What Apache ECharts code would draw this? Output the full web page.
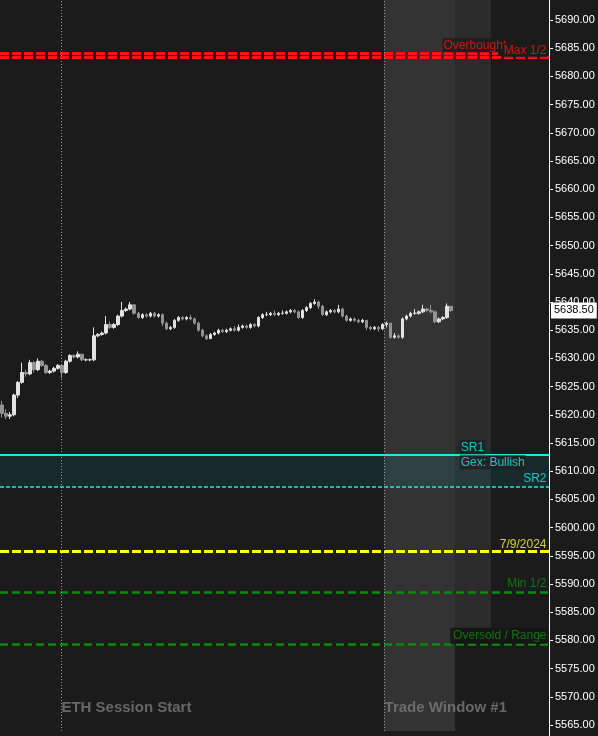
<!DOCTYPE html>
<html><head><meta charset="utf-8">
<script src="https://cdn.jsdelivr.net/npm/echarts@6/dist/echarts.min.js"></script>
<style>html,body{margin:0;padding:0;background:#1b1b1b;}#c{width:598px;height:736px;}</style>
</head><body><div id="c"></div>
<script>
// ---- data ----
const opens = [5621.75,5620.25,5619.75,5620.0,5623.5,5625.75,5627.5,5627.25,5629.25,5628.0,
5629.5,5628.75,5627.5,5627.75,5628.25,5628.75,5627.5,5629.5,5630.5,5630.25,
5630.75,5629.75,5629.75,5629.75,5634.0,5634.25,5634.5,5636.0,5635.5,5636.0,
5637.5,5638.5,5638.75,5639.5,5638.0,5637.25,5637.75,5637.5,5638.0,5637.5,
5637.75,5636.25,5635.25,5635.5,5636.75,5637.25,5637.0,5637.25,5637.0,5636.25,
5635.0,5634.0,5633.5,5634.25,5634.5,5635.0,5634.75,5635.0,5635.25,5635.0,
5635.5,5635.75,5635.5,5636.0,5635.75,5637.25,5637.75,5637.75,5638.0,5637.75,
5638.0,5638.0,5638.25,5638.5,5638.25,5637.25,5638.5,5639.0,5639.75,5640.0,
5639.25,5637.75,5638.25,5638.5,5638.25,5638.75,5637.5,5636.75,5637.0,5636.75,
5636.5,5636.75,5635.5,5635.25,5635.5,5635.25,5636.0,5636.25,5633.75,5634.0,
5633.75,5637.0,5637.5,5638.0,5638.0,5638.25,5638.75,5638.5,5638.25,5636.5,
5637.0,5637.25,5639.25];
const closes = [5620.25,5619.75,5620.0,5623.5,5625.75,5627.5,5627.25,5629.25,5628.0,5629.5,
5628.75,5627.5,5627.75,5628.25,5628.75,5627.5,5629.5,5630.5,5630.25,5630.75,
5629.75,5629.75,5629.75,5634.0,5634.25,5634.5,5636.0,5635.5,5636.0,5637.5,
5638.5,5638.75,5639.5,5638.0,5637.25,5637.75,5637.5,5638.0,5637.5,5637.75,
5636.25,5635.25,5635.5,5636.75,5637.25,5637.0,5637.25,5637.0,5636.25,5635.0,
5634.0,5633.5,5634.25,5634.5,5635.0,5634.75,5635.0,5635.25,5635.0,5635.5,
5635.75,5635.5,5636.0,5635.75,5637.25,5637.75,5637.75,5638.0,5637.75,5638.0,
5638.0,5638.25,5638.5,5638.25,5637.25,5638.5,5639.0,5639.75,5640.0,5639.25,
5637.75,5638.25,5638.5,5638.25,5638.75,5637.5,5636.75,5637.0,5636.75,5636.5,
5636.75,5635.5,5635.25,5635.5,5635.25,5636.0,5636.25,5633.75,5634.0,5633.75,
5637.0,5637.5,5638.0,5638.0,5638.25,5638.75,5638.5,5638.25,5636.5,5637.0,
5637.25,5639.25,5638.5];
const lows = [5619.5,5619.25,5619.25,5619.75,5623.0,5625.5,5626.75,5627.0,5627.5,5627.75,
5628.5,5627.25,5627.25,5627.5,5628.0,5626.5,5627.25,5629.25,5630.0,5630.0,
5629.5,5629.5,5629.5,5629.5,5633.75,5634.0,5634.25,5635.25,5635.25,5635.75,
5637.25,5638.25,5638.5,5637.75,5637.0,5637.0,5637.25,5637.25,5637.25,5637.25,
5635.75,5635.0,5635.0,5635.25,5636.5,5636.75,5636.75,5636.75,5636.0,5634.75,
5633.75,5633.25,5633.5,5634.0,5634.25,5634.5,5634.5,5634.75,5634.75,5634.75,
5635.25,5635.25,5635.25,5635.5,5635.5,5637.0,5637.5,5637.5,5637.5,5637.5,
5637.75,5637.75,5638.0,5638.0,5637.0,5637.0,5638.25,5638.75,5639.5,5638.75,
5637.5,5637.5,5638.0,5638.0,5638.0,5637.25,5636.5,5636.5,5636.5,5636.25,
5636.25,5635.0,5635.0,5635.0,5634.75,5635.0,5635.5,5633.5,5633.5,5633.5,
5633.5,5636.75,5637.25,5637.75,5637.75,5638.0,5638.25,5638.0,5636.25,5636.25,
5636.75,5637.0,5638.25];
const highs = [5622.5,5621.0,5620.5,5623.75,5626.0,5629.25,5628.0,5629.75,5629.5,5630.0,
5629.75,5629.0,5628.0,5628.5,5629.0,5629.0,5629.75,5630.75,5630.75,5631.25,
5630.75,5630.0,5630.0,5635.5,5634.5,5634.75,5637.5,5636.5,5636.25,5637.75,
5640.0,5639.0,5640.0,5639.5,5638.25,5638.0,5638.0,5638.25,5638.25,5638.0,
5638.0,5636.5,5635.75,5637.0,5637.5,5637.5,5637.5,5637.75,5637.25,5636.5,
5635.25,5634.25,5634.5,5634.75,5635.25,5635.25,5635.25,5635.5,5635.75,5636.0,
5636.0,5636.0,5636.25,5636.25,5637.5,5638.0,5638.25,5638.25,5638.5,5638.25,
5638.5,5638.5,5638.75,5638.75,5638.5,5638.75,5639.25,5640.0,5640.5,5640.25,
5639.5,5638.5,5638.75,5638.75,5639.5,5639.0,5637.75,5637.25,5637.25,5637.0,
5637.0,5636.75,5635.75,5635.75,5635.75,5636.25,5636.5,5636.25,5634.5,5634.25,
5637.25,5637.75,5638.25,5638.75,5638.5,5639.5,5639.0,5639.5,5638.5,5637.25,
5637.5,5639.75,5639.25];

const slotCount = 137;               // bar slots across the plot (incl. empty future slots)
const levelNames  = ['Overbought', 'Max 1/2', 'SR1', 'SR2', '7/9/2024', 'Min 1/2', 'Oversold / Range'];
const levelPrices = [5684.1, 5683.4, 5613.0, 5607.2, 5595.75, 5588.6, 5579.3];
const zoneNote = 'Gex: Bullish';
const eventNames = ['ETH Session Start', 'Trade Window #1'];
const eventSlots = [15.2, 95.85];    // in bar-slot units
const tradeWindowEnd = 113.55;
const tradeWindowTail = 122.5;
const yMin = 5560, yMax = 5695, yInterval = 5;
const plotTop = 5693.55, plotBottom = 5563.94;

// ---- build ----
const categories = [];
for (let i = 0; i < slotCount; i++) categories.push(String(i));
const candles = opens.map((o, i) => [o, closes[i], lows[i], highs[i]]);
const lvl = Object.fromEntries(levelNames.map((n, i) => [n, levelPrices[i]]));

const RED = '#ff1414', CYAN = '#1ee8e8', YEL = '#ffff1a', GRN = '#0c8c0c';
const FONT = 'Liberation Sans';
const rightEdge = slotCount - 0.25;

function hLine(p, color, width, type, x0, x1) {
  return [{coord: [x0 == null ? 0 : x0, p], lineStyle: {color, width, type}},
          {coord: [x1 == null ? slotCount : x1, p]}];
}

const levelLines = [
  hLine(lvl['Overbought'], RED, 3, [9, 3], 0, 124.3),
  hLine(lvl['Max 1/2'], RED, 3, [9, 3]),
  hLine(lvl['SR1'], CYAN, 2, 'solid'),
  hLine(lvl['SR2'], CYAN, 1.5, [4, 2]),
  hLine(lvl['7/9/2024'], YEL, 3, [9, 3]),
  hLine(lvl['Min 1/2'], GRN, 2.5, [8, 4]),
  hLine(lvl['Oversold / Range'], GRN, 2.5, [8, 4])
];
eventSlots.forEach(x => levelLines.push([
  {coord: [x, plotBottom], lineStyle: {color: '#9c9c9c', width: 1, type: [1, 2]}},
  {coord: [x, plotTop]}
]));

function lab(text, x, y, pos, dy, color, bg, extra) {
  return {
    value: [x, y],
    label: Object.assign({
      show: true, formatter: text, position: pos, distance: 0, offset: [0, dy],
      color, fontSize: 12, fontFamily: FONT, lineHeight: 14,
      backgroundColor: bg || 'transparent', padding: [0, 1]
    }, extra || {})
  };
}
const labels = [
  lab(levelNames[0], 110.3, lvl['Overbought'], 'right', -8, RED, '#1c1c1c', {padding: [0, 10, 0, 1]}),
  lab(levelNames[1], rightEdge, lvl['Max 1/2'], 'left', -7, RED, '#1b1b1b'),
  lab(levelNames[2], 114.6, lvl['SR1'], 'right', -7, CYAN, '#1f2121'),
  lab(zoneNote, 114.6, lvl['SR1'], 'right', 8, CYAN, '#1f2121'),
  lab(levelNames[3], rightEdge, lvl['SR2'], 'left', -8, CYAN),
  lab(levelNames[4], rightEdge, lvl['7/9/2024'], 'left', -7, YEL),
  lab(levelNames[5], rightEdge, lvl['Min 1/2'], 'left', -8, GRN),
  lab(levelNames[6], rightEdge, lvl['Oversold / Range'], 'left', -8.5, GRN, '#141414', {padding: [1, 1, 1, 3]}),
  lab(eventNames[0], eventSlots[0], 5568.4, 'right', 2, '#7b7b7b', null, {fontSize: 15, fontWeight: 'bold', padding: 0}),
  lab(eventNames[1], eventSlots[1], 5568.4, 'right', 2, '#7b7b7b', null, {fontSize: 15, fontWeight: 'bold', padding: 0})
];

const chart = echarts.init(document.getElementById('c'), null, {renderer: 'canvas'});
chart.setOption({
  animation: false,
  backgroundColor: '#1b1b1b',
  grid: {left: 0, right: 49, top: -8.2, bottom: -17.2, containLabel: false, outerBoundsMode: 'none'},
  xAxis: [
    {type: 'category', data: categories, boundaryGap: true, show: false},
    {type: 'value', min: 0, max: slotCount, show: false}
  ],
  yAxis: {
    type: 'value', position: 'right', min: yMin, max: yMax, interval: yInterval,
    axisLine: {show: true, onZero: false, lineStyle: {color: '#ffffff', width: 1}},
    axisTick: {show: true, length: 4, lineStyle: {color: '#ffffff'}},
    axisLabel: {color: '#ffffff', fontSize: 11, fontFamily: FONT, margin: 6, formatter: v => v.toFixed(2)},
    splitLine: {show: false}
  },
  series: [
    {
      type: 'line', xAxisIndex: 1, z: 1, silent: true, symbol: 'none',
      data: [[0, 5600]], lineStyle: {color: 'transparent'},
      markArea: {
        silent: true,
        data: [
          [{coord: [eventSlots[1], plotBottom], itemStyle: {color: '#333333'}}, {coord: [tradeWindowEnd, plotTop]}],
          [{coord: [tradeWindowEnd, 5582.2], itemStyle: {color: '#2b2b2b'}}, {coord: [tradeWindowTail, plotTop]}]
        ]
      }
    },
    {
      type: 'line', xAxisIndex: 1, z: 2, silent: true, symbol: 'none',
      data: [[0, 5600]], lineStyle: {color: 'transparent'},
      markArea: {
        silent: true,
        data: [[{coord: [0, lvl['SR2']], itemStyle: {color: 'rgba(0,255,255,0.065)'}}, {coord: [slotCount, lvl['SR1']]}]]
      }
    },
    {
      type: 'candlestick', xAxisIndex: 0, z: 3, barWidth: 3,
      data: candles,
      itemStyle: {color: '#e2e2e2', color0: '#939393', borderColor: '#e2e2e2', borderColor0: '#939393', borderWidth: 1},
      markLine: {
        silent: true, symbol: ['none', 'none'],
        data: [{yAxis: closes[closes.length - 1]}],
        lineStyle: {color: 'transparent', width: 0.01},
        label: {show: true, position: 'end', distance: 2, formatter: p => p.value.toFixed(2),
          backgroundColor: '#ffffff', color: '#000000', fontSize: 11, fontFamily: FONT, padding: [3, 3, 2, 3]}
      }
    },
    {
      type: 'line', xAxisIndex: 1, z: 4, silent: true, symbol: 'none',
      data: [[0, 5600]], lineStyle: {color: 'transparent'},
      markLine: {silent: true, symbol: ['none', 'none'], label: {show: false}, data: levelLines}
    },
    {
      type: 'scatter', xAxisIndex: 1, z: 5, silent: true, symbolSize: 1,
      itemStyle: {color: 'transparent'},
      data: labels
    }
  ]
});
</script>
</body></html>
